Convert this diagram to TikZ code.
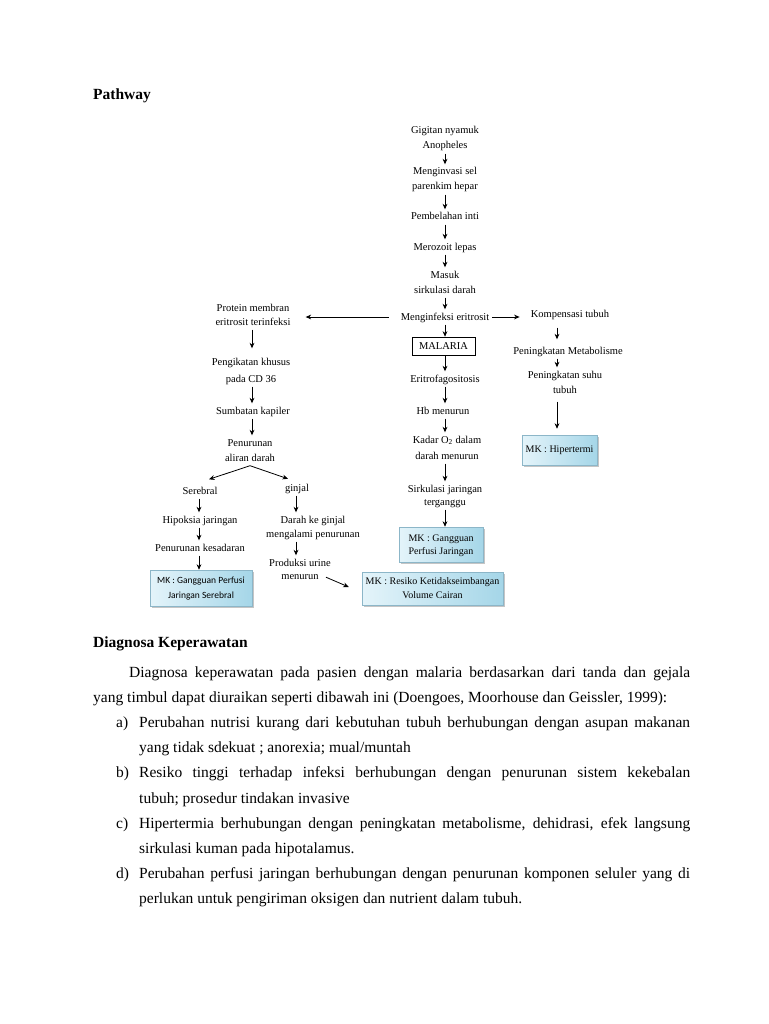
\documentclass[tikz,border=0pt]{standalone}
\usepackage{fontspec}
\setmainfont{Liberation Serif}
\newfontfamily\calfont{Carlito}
\usetikzlibrary{arrows.meta,shadows,calc}
\definecolor{mkl}{RGB}{228,244,250}
\definecolor{mkr}{RGB}{165,214,232}
\definecolor{mkd}{RGB}{140,182,200}
\newcommand\tl[1]{\begin{tabular}[t]{@{}c@{}}#1\end{tabular}}
\newcommand\tc[1]{\begin{tabular}{@{}c@{}}#1\end{tabular}}
\begin{document}
\begin{tikzpicture}[x=1pt,y=-1pt,
  lb/.style={font=\fontsize{10.5}{15}\selectfont, inner sep=0pt, anchor=base},
  arr/.style={-{Stealth[length=5.5pt,width=4.8pt]}, line width=0.8pt},
  mk/.style={draw=mkd, line width=0.5pt, left color=mkl, right color=mkr, inner sep=0pt,
    drop shadow={shadow xshift=1.5pt,shadow yshift=-1.5pt,fill=black!45},
    font=\fontsize{10}{15}\selectfont},
  body/.style={font=\fontsize{15.5}{18}\selectfont, inner sep=0pt, anchor=base west},
  hd/.style={font=\fontsize{15.5}{18}\selectfont\bfseries, inner sep=0pt, anchor=base west}]
\fill[white] (0,0) rectangle (768,1024);
\useasboundingbox (0,0) rectangle (768,1024);

\node[hd] (pw) at (93,100) {Pathway};

% axes
\coordinate (cx) at (445,0);
\coordinate (lx) at (252,0);
\coordinate (sx) at (199,0);
\coordinate (gx) at (296,0);
\coordinate (rx) at (557,0);

% centre column
\node[lb] (n1) at (445,134) {\tl{Gigitan nyamuk\\Anopheles}};
\node[lb] (n2) at (445,175) {\tl{Menginvasi sel\\parenkim hepar}};
\node[lb] (n3) at (445,220) {\tl{Pembelahan inti}};
\node[lb] (n4) at (445,250) {\tl{Merozoit lepas}};
\node[lb] (n5) at (445,278) {\tl{Masuk\\sirkulasi darah}};
\node[lb] (n6) at (445,320) {\tl{Menginfeksi eritrosit}};
\node[draw, line width=0.6pt, minimum width=63pt, minimum height=18pt, inner sep=0pt,
  font=\fontsize{10.5}{15}\selectfont] (mal) at (443.5,346) {MALARIA};
\node[lb] (n7) at (445,382) {\tl{Eritrofagositosis}};
\node[lb] (n8) at (443,414) {\tl{Hb menurun}};
\node[lb] (n9) at (447,443) {\tl{Kadar O\textsubscript{2} dalam\\[1pt]darah menurun}};
\node[lb] (n10) at (445,492) {\tl{Sirkulasi jaringan\\[-2pt]terganggu}};
\node[mk, minimum width=84pt, minimum height=35pt] (mk1) at (441,544.5)
  {\tc{MK : Gangguan\\[-2pt]Perfusi Jaringan}};

\foreach \a/\b in {n1/n2,n2/n3,n3/n4,n4/n5,n5/n6,n6/mal,mal/n7,n7/n8,n8/n9,n9/n10,n10/mk1}
  \draw[arr] (\a.south -| cx) -- (\b.north -| cx);

% left column
\node[lb] (prot) at (253,311) {\tl{Protein membran\\[-1pt]eritrosit terinfeksi}};
\node[lb] (peng) at (251,365) {\tl{Pengikatan khusus\\[2pt]pada CD 36}};
\node[lb] (sumb) at (253,414) {\tl{Sumbatan kapiler}};
\node[lb] (penur) at (250,446) {\tl{Penurunan\\aliran darah}};
\draw[arr, shorten >=6pt] (prot.south -| lx) -- (peng.north -| lx);
\draw[arr] (peng.south -| lx) -- (sumb.north -| lx);
\draw[arr] (sumb.south -| lx) -- (penur.north -| lx);

\node[lb] (ser) at (200,494) {\tl{Serebral}};
\node[lb] (gin) at (297,491) {\tl{ginjal}};
\draw[arr] (penur.south) -- ([xshift=9pt,yshift=4pt]ser.north);
\draw[arr] (penur.south) -- ([xshift=-9pt,yshift=1.5pt]gin.north);

\node[lb] (hip) at (200,523) {\tl{Hipoksia jaringan}};
\node[lb] (pkes) at (200,551) {\tl{Penurunan kesadaran}};
\node[mk, minimum width=102pt, minimum height=36pt, font=\calfont\fontsize{9.5}{15}\selectfont]
  (mkser) at (201,588) {\tc{MK : Gangguan Perfusi\\Jaringan Serebral}};
\draw[arr] (ser.south -| sx) -- (hip.north -| sx);
\draw[arr] (hip.south -| sx) -- (pkes.north -| sx);
\draw[arr] (pkes.south -| sx) -- (mkser.north -| sx);

\node[lb] (darah) at (313,523) {\tl{Darah ke ginjal\\[-1pt]mengalami penurunan}};
\node[lb] (prod) at (300,566) {\tl{Produksi urine\\[-2pt]menurun}};
\node[mk, minimum width=141pt, minimum height=33pt] (mkres) at (432.5,588.5)
  {\tc{MK : Resiko Ketidakseimbangan\\[-1pt]Volume Cairan}};
\draw[arr] (gin.south -| gx) -- (darah.north -| gx);
\draw[arr] (darah.south -| gx) -- (prod.north -| gx);
\draw[arr] ([xshift=-5pt,yshift=6.5pt]prod.south east) -- ([xshift=-13pt,yshift=1.5pt]mkres.west);

% right column
\node[lb] (komp) at (570,317) {\tl{Kompensasi tubuh}};
\node[lb] (meta) at (568,354) {\tl{Peningkatan Metabolisme}};
\node[lb] (suhu) at (565,378) {\tl{Peningkatan suhu\\tubuh}};
\node[mk, minimum width=75pt, minimum height=30pt] (mkhip) at (559.5,450) {MK : Hipertermi};
\draw[arr, shorten <=6pt, shorten >=4pt] (komp.south -| rx) -- (meta.north -| rx);
\draw[arr] (meta.south -| rx) -- (suhu.north -| rx);
\draw[arr, shorten <=4pt, shorten >=6pt] (suhu.south -| rx) -- (mkhip.north -| rx);

% horizontal branches
\draw[arr, shorten <=12pt, shorten >=15pt] (n6.west) -- (n6.west -| prot.east);
\draw[arr, shorten <=3pt, shorten >=11pt] (n6.east) -- (n6.east -| komp.west);

% text section
\node[hd] (dk) at (93,647) {Diagnosa Keperawatan};
\node[body] (p1) at (129,677) {\hbox to 561pt{Diagnosa keperawatan pada pasien dengan malaria berdasarkan dari tanda dan gejala}};
\node[body] (p2) at (93,702.5) {yang timbul dapat diuraikan seperti dibawah ini (Doengoes, Moorhouse dan Geissler, 1999):};
\node[body] (la) at (116,727.5) {a)};
\node[body] (a1) at (139,727.5) {\hbox to 551pt{Perubahan nutrisi kurang dari kebutuhan tubuh berhubungan dengan asupan makanan}};
\node[body] (a2) at (139,752.7) {yang tidak sdekuat ; anorexia; mual/muntah};
\node[body] (lbb) at (116,777.9) {b)};
\node[body] (b1) at (139,777.9) {\hbox to 551pt{Resiko tinggi terhadap infeksi berhubungan dengan penurunan sistem kekebalan}};
\node[body] (b2) at (139,803.1) {tubuh; prosedur tindakan invasive};
\node[body] (lc) at (116,828.3) {c)};
\node[body] (c1) at (139,828.3) {\hbox to 551pt{Hipertermia berhubungan dengan peningkatan metabolisme, dehidrasi, efek langsung}};
\node[body] (c2) at (139,853.5) {sirkulasi kuman pada hipotalamus.};
\node[body] (ld) at (116,878.7) {d)};
\node[body] (d1) at (139,878.7) {\hbox to 551pt{Perubahan perfusi jaringan berhubungan dengan penurunan komponen seluler yang di}};
\node[body] (d2) at (139,903.9) {perlukan untuk pengiriman oksigen dan nutrient dalam tubuh.};
\end{tikzpicture}
\end{document}
